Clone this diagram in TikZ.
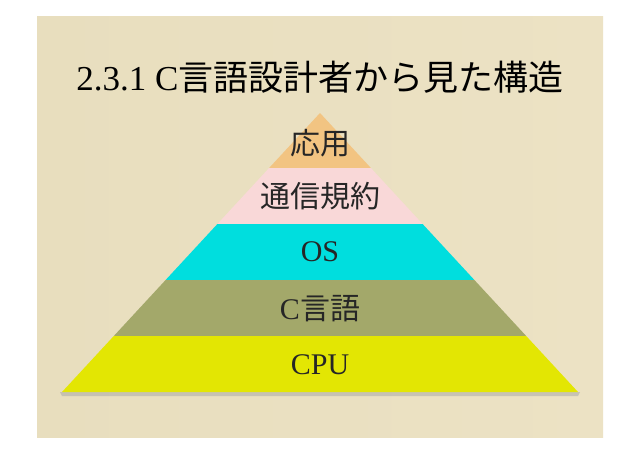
\documentclass[tikz,border=0pt]{standalone}
\usepackage{fontspec}
\setmainfont{Liberation Serif}
\newfontfamily\cjk{Noto Sans CJK JP}
\begin{document}
\begin{tikzpicture}[x=1pt,y=-1pt,
  band/.style={draw=none},
  lbl/.style={font=\fontsize{30}{32}\selectfont, text=black!85, inner sep=0pt}]
\useasboundingbox (0,0) rectangle (638,451);
\fill[white] (0,0) rectangle (638,451);
\shade[left color={rgb,255:red,232;green,222;blue,190}, right color={rgb,255:red,236;green,226;blue,196}] (37,16) rectangle (603,437);
\fill[black!35, opacity=0.5] (60,392) -- (580,392) -- (578,396) -- (62,396) -- cycle;
\fill[band, fill={rgb,255:red,242;green,196;blue,130}] (320,113) -- (370.9,168) -- (269.1,168) -- cycle;
\fill[band, fill={rgb,255:red,249;green,216;blue,216}] (269.1,168) -- (370.9,168) -- (422.6,224) -- (217.4,224) -- cycle;
\fill[band, fill={rgb,255:red,0;green,222;blue,222}] (217.4,224) -- (422.6,224) -- (474.4,280) -- (165.6,280) -- cycle;
\fill[band, fill={rgb,255:red,163;green,168;blue,106}] (165.6,280) -- (474.4,280) -- (526.2,336) -- (113.8,336) -- cycle;
\fill[band, fill={rgb,255:red,227;green,230;blue,3}] (113.8,336) -- (526.2,336) -- (578,392) -- (62,392) -- cycle;
\node[font=\fontsize{35}{38}\selectfont, inner sep=0pt] (title) at (320,77) {2.3.1 C{\cjk 言語設計者から見た構造}};
\node[lbl] (l1) at (320,143) {\cjk 応用};
\node[lbl] (l2) at (320,196) {\cjk 通信規約};
\node[lbl] (l3) at (320,252) {OS};
\node[lbl] (l4) at (320,309) {C{\cjk 言語}};
\node[lbl] (l5) at (320,365) {CPU};
\end{tikzpicture}
\end{document}
